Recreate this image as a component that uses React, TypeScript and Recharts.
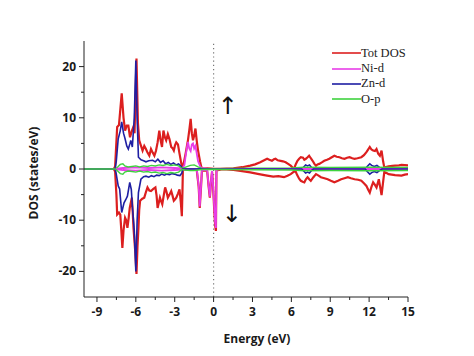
import React from 'react';
import { LineChart, Line, XAxis, YAxis, ReferenceLine, ReferenceDot } from 'recharts';

// Energy (eV), DOS (states/eV) pairs
const totUp: number[][] = [
  [-10, 0], [-7.7, 0], [-7.6, 0.5], [-7.44, 8.2], [-7.3, 8.6], [-7.09, 14.8], [-6.95, 10], [-6.83, 7.5], [-6.7, 8.5],
  [-6.58, 8.5], [-6.45, 6.2], [-6.3, 7.5], [-6.21, 8.1], [-6.1, 7], [-5.95, 21.6], [-5.84, 9], [-5.74, 5.6], [-5.6, 4.5],
  [-5.48, 3.6], [-5.35, 4.5], [-5.22, 3.9], [-5.1, 3.2], [-4.96, 2.6], [-4.83, 3.9], [-4.7, 3.2], [-4.57, 2.6], [-4.45, 3.5],
  [-4.32, 5.2], [-4.19, 7.5], [-4.08, 5.5], [-3.98, 4.3], [-3.87, 7.5], [-3.76, 6.2], [-3.66, 5.6], [-3.53, 6.8], [-3.4, 5.8],
  [-3.27, 4.3], [-3.15, 4.0], [-3.07, 3.6], [-2.98, 4.6], [-2.88, 5.2], [-2.75, 4.8], [-2.63, 3.0], [-2.5, 1.2], [-2.42, 0.1],
  [-2.3, 1.2], [-2.16, 3.0], [-2.05, 4.6], [-1.98, 5.6], [-1.88, 7.5], [-1.77, 9.8], [-1.68, 7], [-1.59, 5.6], [-1.5, 6.5],
  [-1.4, 7.9], [-1.3, 5.5], [-1.2, 3.6], [-1.05, 1.5], [-0.94, 0.3], [-0.8, 0.1], [-0.5, 0.15], [-0.2, 0.1], [0, 0.05],
  [0.5, 0.05], [1.0, 0.1], [1.53, 0.15], [2.2, 0.35], [2.83, 0.65], [3.2, 0.9], [3.6, 1.3], [3.9, 1.7], [4.13, 2.0],
  [4.3, 1.8], [4.5, 1.6], [4.65, 1.9], [4.78, 2.0], [4.95, 1.7], [5.17, 1.6], [5.35, 1.5], [5.56, 1.3], [5.75, 1.0],
  [5.95, 0.65], [6.2, 0.0], [6.35, 1.0], [6.47, 1.6], [6.6, 2.0], [6.73, 2.3], [6.9, 2.2], [7.0, 1.8], [7.12, 2.0],
  [7.25, 2.3], [7.37, 2.6], [7.5, 2.1], [7.64, 1.6], [7.78, 1.0], [7.9, 0.65], [8.02, 0.9], [8.15, 1.0], [8.35, 1.3],
  [8.54, 1.6], [8.75, 1.8], [8.93, 2.0], [9.12, 2.3], [9.32, 2.6], [9.5, 2.4], [9.71, 2.3], [9.9, 2.1], [10.1, 2.0],
  [10.3, 2.2], [10.49, 2.3], [10.7, 2.1], [10.88, 2.0], [11.1, 2.1], [11.4, 2.3], [11.6, 2.7], [11.79, 3.3], [11.92, 3.8],
  [12.05, 4.3], [12.18, 3.8], [12.31, 3.6], [12.45, 3.5], [12.57, 3.9], [12.7, 3.0], [12.83, 2.6], [12.96, 3.6], [13.08, 1.5],
  [13.17, 0.3], [13.3, 0.4], [13.5, 0.5], [13.8, 0.6], [14.0, 0.65], [14.3, 0.7], [14.5, 0.8], [14.75, 0.75], [15, 0.7],
];

const totDown: number[][] = [
  [-10, 0], [-7.7, 0], [-7.6, -0.5], [-7.5, -5], [-7.44, -8.9], [-7.3, -8.5], [-7.2, -8.9], [-7.12, -12], [-7.04, -15.4],
  [-6.95, -12], [-6.83, -9.5], [-6.74, -10], [-6.65, -11.5], [-6.55, -9.5], [-6.47, -7.6], [-6.38, -6.5], [-6.31, -5.6],
  [-6.25, -8], [-6.18, -11.5], [-6.05, -16], [-5.95, -20.5], [-5.87, -15], [-5.8, -11.5], [-5.74, -8], [-5.67, -6.2],
  [-5.5, -5.8], [-5.35, -5.6], [-5.22, -4.5], [-5.1, -3.6], [-4.96, -4.2], [-4.83, -4.3], [-4.65, -3.9], [-4.49, -3.6],
  [-4.4, -5.2], [-4.32, -7.6], [-4.22, -6.5], [-4.14, -5.6], [-4.05, -6.3], [-3.96, -6.9], [-3.85, -5.2], [-3.74, -3.6],
  [-3.63, -4.5], [-3.53, -5.6], [-3.4, -5.0], [-3.27, -4.3], [-3.17, -5.2], [-3.07, -6.2], [-2.97, -5.9], [-2.88, -5.6],
  [-2.75, -4.8], [-2.63, -4.0], [-2.53, -6.5], [-2.45, -9.2], [-2.4, -4], [-2.37, -0.1], [-2.0, -0.1], [-1.3, -0.2],
  [-1.15, -3.5], [-1.07, -7.6], [-0.98, -4], [-0.9, -0.3], [-0.5, -0.3], [-0.38, -3.5], [-0.29, -5.6], [-0.2, -2.5],
  [-0.12, -0.5], [-0.05, -3], [0.05, -8], [0.12, -11], [0.18, -12.1], [0.22, -0.3], [0.6, -0.1], [1.0, -0.1], [1.53, -0.2],
  [2.2, -0.4], [2.83, -0.65], [3.5, -1.0], [4.13, -1.3], [4.6, -1.5], [5.0, -1.4], [5.43, -1.6], [5.7, -1.3], [5.95, -1.0],
  [6.15, -0.6], [6.3, -0.3], [6.45, -1.2], [6.6, -1.9], [6.73, -2.3], [6.87, -2.5], [7.0, -2.6], [7.12, -2.0], [7.25, -1.6],
  [7.38, -2.0], [7.5, -2.3], [7.7, -1.6], [7.9, -1.0], [8.1, -1.3], [8.28, -1.6], [8.55, -1.8], [8.8, -2.0], [9.05, -2.3],
  [9.32, -2.6], [9.6, -2.3], [9.84, -2.0], [10.1, -1.8], [10.36, -1.6], [10.6, -1.8], [10.88, -2.0], [11.15, -2.1],
  [11.4, -2.3], [11.6, -2.8], [11.79, -3.3], [11.92, -4.0], [12.05, -4.6], [12.18, -3.5], [12.31, -2.6], [12.45, -3.1],
  [12.57, -3.6], [12.66, -2.8], [12.75, -2.0], [12.85, -3.5], [12.96, -5.1], [13.08, -2.5], [13.17, -0.6], [13.35, -0.8],
  [13.5, -1.0], [14.0, -1.2], [14.5, -1.3], [14.75, -1.1], [15, -1.0],
];

const niUp: number[][] = [
  [-10, 0], [-7.6, 0], [-7.0, 0.2], [-6.0, 0.3], [-5.0, 0.2], [-4.0, 0.3], [-3.0, 0.2], [-2.4, 0.1], [-2.25, 0.8],
  [-2.16, 2.5], [-2.05, 4.3], [-1.98, 5.3], [-1.88, 4.0], [-1.77, 3.5], [-1.68, 4.8], [-1.59, 5.0], [-1.5, 4.0],
  [-1.4, 4.5], [-1.3, 3.0], [-1.2, 1.5], [-1.05, 0.6], [-0.94, 0.2], [-0.5, 0.05], [0, 0.02], [15, 0.02],
];

const niDown: number[][] = [
  [-10, 0], [-7.6, 0], [-7.0, -0.2], [-6.0, -0.3], [-5.0, -0.2], [-4.0, -0.3], [-3.0, -0.2], [-2.4, -0.1], [-1.3, -0.1],
  [-1.15, -3.3], [-1.07, -7.3], [-0.98, -3.8], [-0.9, -0.2], [-0.5, -0.2], [-0.38, -3.3], [-0.29, -5.4], [-0.2, -2.3],
  [-0.12, -0.4], [-0.05, -2.8], [0.05, -7.5], [0.12, -10.5], [0.18, -11.5], [0.22, -0.2], [0.5, 0], [15, 0],
];

const znUp: number[][] = [
  [-10, 0], [-7.6, 0], [-7.51, 1.5], [-7.36, 5.9], [-7.2, 7.5], [-7.09, 9.2], [-6.95, 7.0], [-6.83, 5.9], [-6.7, 4.5],
  [-6.58, 3.9], [-6.45, 5.0], [-6.39, 5.6], [-6.27, 4.3], [-6.12, 10], [-6.0, 21.2], [-5.9, 10], [-5.8, 2.3], [-5.6, 1.8],
  [-5.4, 1.6], [-5.22, 1.4], [-5.0, 1.6], [-4.7, 1.7], [-4.5, 1.4], [-4.3, 1.9], [-4.1, 1.3], [-3.9, 1.6], [-3.7, 1.0],
  [-3.5, 1.3], [-3.3, 0.9], [-3.1, 1.2], [-2.9, 0.8], [-2.7, 1.0], [-2.5, 0.5], [-2.4, 0], [6.8, 0], [6.95, 0.4],
  [7.1, 0.8], [7.25, 0.6], [7.4, 0.8], [7.55, 0.3], [7.7, 0], [11.7, 0], [11.85, 0.5], [12.05, 1.0], [12.2, 0.7],
  [12.4, 0.5], [12.6, 0.7], [12.8, 0.3], [13.0, 0], [15, 0],
];

const znDown: number[][] = [
  [-10, 0], [-7.6, 0], [-7.51, -1], [-7.36, -3.3], [-7.25, -3.9], [-7.09, -8.5], [-6.91, -6.6], [-6.78, -6.0],
  [-6.65, -5.3], [-6.47, -2.6], [-6.35, -4], [-6.27, -7.2], [-6.12, -12], [-6.0, -20.0], [-5.9, -10], [-5.8, -4.6],
  [-5.61, -2.0], [-5.4, -1.5], [-5.22, -1.4], [-5.0, -1.6], [-4.8, -1.3], [-4.6, -1.5], [-4.4, -1.2], [-4.2, -1.3],
  [-4.0, -1.0], [-3.8, -1.2], [-3.6, -1.0], [-3.4, -1.1], [-3.2, -0.9], [-3.0, -1.0], [-2.8, -1.2], [-2.6, -1.3],
  [-2.45, -0.8], [-2.38, 0], [6.8, 0], [6.95, -0.4], [7.1, -0.8], [7.25, -0.6], [7.4, -0.8], [7.55, -0.3], [7.7, 0],
  [11.7, 0], [11.85, -0.5], [12.05, -1.0], [12.2, -0.7], [12.4, -0.5], [12.6, -0.7], [12.8, -0.3], [13.0, 0], [15, 0],
];

const opUp: number[][] = [
  [-10, 0], [-7.6, 0], [-7.4, 0.4], [-7.2, 0.9], [-7.0, 1.0], [-6.85, 0.6], [-6.6, 0.4], [-6.3, 0.5], [-6.0, 0.6],
  [-5.7, 0.4], [-5.4, 0.6], [-5.1, 0.5], [-4.8, 0.7], [-4.5, 0.6], [-4.2, 0.8], [-3.9, 0.7], [-3.6, 0.9], [-3.3, 0.7],
  [-3.0, 0.8], [-2.7, 0.6], [-2.45, 0.1], [-2.2, 0.3], [-1.8, 0.7], [-1.5, 0.8], [-1.2, 0.4], [-0.9, 0.1], [0, 0.05],
  [3, 0.15], [6, 0.2], [7, 0.35], [9, 0.3], [12, 0.35], [15, 0.3],
];

const opDown: number[][] = [
  [-10, 0], [-7.6, 0], [-7.4, -0.4], [-7.2, -0.9], [-7.0, -1.0], [-6.85, -0.6], [-6.6, -0.4], [-6.3, -0.5], [-6.0, -0.6],
  [-5.7, -0.4], [-5.4, -0.6], [-5.1, -0.5], [-4.8, -0.7], [-4.5, -0.6], [-4.2, -0.8], [-3.9, -0.7], [-3.6, -0.9],
  [-3.3, -0.7], [-3.0, -0.8], [-2.7, -0.6], [-2.45, -0.1], [-2.2, -0.2], [-1.8, -0.3], [-1.5, -0.3], [-1.2, -0.2],
  [-0.9, -0.1], [0, -0.05], [3, -0.15], [6, -0.2], [7, -0.35], [9, -0.3], [12, -0.35], [15, -0.3],
];

const xTicks = [-9, -7.5, -6, -4.5, -3, -1.5, 0, 1.5, 3, 4.5, 6, 7.5, 9, 10.5, 12, 13.5, 15];
const yTicks = [-20, -15, -10, -5, 0, 5, 10, 15, 20];

const seriesNames = ['Tot DOS', 'Ni-d', 'Zn-d', 'O-p'];
const seriesColors = ['#dc1f1f', '#e83ee8', '#1f1fa3', '#3fd33f'];
const seriesWidths = [2.2, 1.8, 1.6, 1.4];

const toRows = (pairs: number[][]) => pairs.map(([x, y]) => ({ x, y }));

const FONT = '"Open Sans", "DejaVu Sans", sans-serif';

const XTick = (props: any) => {
  const { x, y, payload } = props;
  const v = payload.value;
  const major = Math.abs(v % 3) < 1e-6;
  return (
    <g>
      <line x1={x} x2={x} y1={y} y2={y + (major ? 5 : 3)} stroke="#222" strokeWidth={1} />
      {major && (
        <text x={x} y={y + 19} textAnchor="middle" fontFamily={FONT} fontWeight={700} fontSize={12} fill="#1a1a1a">
          {v}
        </text>
      )}
    </g>
  );
};

const YTick = (props: any) => {
  const { x, y, payload } = props;
  const v = payload.value;
  const major = Math.abs(v % 10) < 1e-6;
  return (
    <g>
      <line x1={x} x2={x - (major ? 5 : 3)} y1={y} y2={y} stroke="#222" strokeWidth={1} />
      {major && (
        <text x={x - 8} y={y + 4} textAnchor="end" fontFamily={FONT} fontWeight={700} fontSize={12} fill="#1a1a1a">
          {v}
        </text>
      )}
    </g>
  );
};

const YTitle = () => (
  <text
    x={25}
    y={165}
    transform="rotate(-90 25 165)"
    textAnchor="middle"
    dominantBaseline="central"
    fontFamily={FONT}
    fontWeight={700}
    fontSize={12}
    fill="#1a1a1a"
  >
    DOS (states/eV)
  </text>
);

const groups: { up: number[][]; down: number[][] }[] = [
  { up: totUp, down: totDown },
  { up: niUp, down: niDown },
  { up: znUp, down: znDown },
  { up: opUp, down: opDown },
];

export default function App() {
  return (
    <div style={{ position: 'relative', width: 466, height: 340 }}>
      <LineChart width={466} height={340} margin={{ top: 33, right: 66, bottom: 0, left: 0 }}>
        <XAxis
          dataKey="x"
          type="number"
          domain={[-10, 15]}
          ticks={xTicks}
          interval={0}
          height={51}
          tickLine={false}
          tickSize={0}
          tickMargin={0}
          tick={<XTick />}
          axisLine={{ stroke: '#222', strokeWidth: 1 }}
          allowDataOverflow
          label={{
            value: 'Energy (eV)',
            position: 'insideBottom',
            offset: 5,
            dx: 11,
            style: { fontFamily: FONT, fontWeight: 700, fontSize: 12, fill: '#1a1a1a' },
          }}
        />
        <XAxis
          xAxisId="top"
          orientation="top"
          dataKey="x"
          type="number"
          domain={[-10, 15]}
          height={0}
          tick={false}
          tickLine={false}
          axisLine={{ stroke: '#444', strokeWidth: 1 }}
        />
        <YAxis
          type="number"
          domain={[-25, 25]}
          ticks={yTicks}
          interval={0}
          width={76}
          tickLine={false}
          tickSize={0}
          tickMargin={0}
          tick={<YTick />}
          axisLine={{ stroke: '#222', strokeWidth: 1 }}
          allowDataOverflow
          label={{ value: 'DOS (states/eV)', content: <YTitle /> }}
        />
        <YAxis
          yAxisId="right"
          orientation="right"
          type="number"
          domain={[-25, 25]}
          width={0}
          tick={false}
          tickLine={false}
          axisLine={{ stroke: '#444', strokeWidth: 1 }}
        />
        <ReferenceLine x={0} stroke="#777" strokeWidth={1.2} strokeDasharray="1.2 3" />
        {groups.map((g, i) => (
          <Line
            key={'up' + i}
            data={toRows(g.up)}
            dataKey="y"
            type="linear"
            stroke={seriesColors[i]}
            strokeWidth={seriesWidths[i]}
            dot={false}
            activeDot={false}
            isAnimationActive={false}
            name={seriesNames[i]}
          />
        ))}
        {groups.map((g, i) => (
          <Line
            key={'dn' + i}
            data={toRows(g.down)}
            dataKey="y"
            type="linear"
            stroke={seriesColors[i]}
            strokeWidth={seriesWidths[i]}
            dot={false}
            activeDot={false}
            isAnimationActive={false}
            legendType="none"
            name={seriesNames[i] + ' down'}
          />
        ))}
        <ReferenceDot
          x={1.1}
          y={12.5}
          r={0}
          fill="none"
          stroke="none"
          label={{ value: '↑', position: 'center', fontSize: 24, fill: '#111', fontFamily: '"DejaVu Sans", sans-serif' }}
        />
        <ReferenceDot
          x={1.4}
          y={-8.6}
          r={0}
          fill="none"
          stroke="none"
          label={{ value: '↓', position: 'center', fontSize: 24, fill: '#111', fontFamily: '"DejaVu Sans", sans-serif' }}
        />
      </LineChart>
      <div style={{ position: 'absolute', left: 324, top: 37.5, width: 80 }}>
        {seriesNames.map((n, i) => (
          <div key={n} style={{ display: 'flex', alignItems: 'center', height: 15.4 }}>
            <svg width={29} height={4} style={{ display: 'block' }}>
              <line x1={0} x2={29} y1={2} y2={2} stroke={seriesColors[i]} strokeWidth={1.6} />
            </svg>
            <span
              style={{
                fontFamily: '"Liberation Serif", "Times New Roman", serif',
                fontSize: 12.5,
                color: '#222',
                lineHeight: '15px',
                whiteSpace: 'nowrap',
              }}
            >
              {n}
            </span>
          </div>
        ))}
      </div>
    </div>
  );
}
